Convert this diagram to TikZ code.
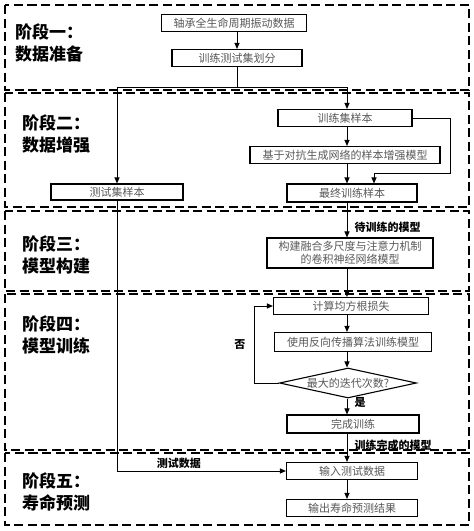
\documentclass[tikz,border=0pt]{standalone}
\usepackage{fontspec}
\setmainfont{Noto Sans CJK SC}
\usetikzlibrary{positioning,arrows.meta,calc,shapes.geometric}

\begin{document}
\begin{tikzpicture}[
  x=1pt, y=-1pt,
  font=\fontsize{11}{13}\selectfont,
  stage/.style={draw, line width=1.8pt, dash pattern=on 9pt off 4.5pt},
  title/.style={font=\fontsize{17}{22}\selectfont\bfseries, align=left, anchor=west, inner sep=0pt},
  box/.style={draw, line width=1.1pt, fill=white, text=black!65, minimum height=17pt, inner sep=1pt, align=center},
  check/.style={box, diamond, aspect=4.57, inner xsep=-15pt, inner ysep=0pt, minimum width=137pt, minimum height=30pt},
  arr/.style={-{Triangle[length=6pt, width=5pt]}, line width=1pt},
  link/.style={line width=1pt},
  lbl/.style={font=\fontsize{11}{13}\selectfont\bfseries, inner sep=1pt}
]
\useasboundingbox (0,0) rectangle (474,531);

% ---- stage frames ----
\draw[stage] (5,5) rectangle (469,90);
\draw[stage] (5,93) rectangle (469,207);
\draw[stage] (5,211) rectangle (469,291);
\draw[stage] (5,294) rectangle (469,450);
\draw[stage] (5,453) rectangle (469,525);

\node[title] (t1) at (15,43) {阶段一：\\数据准备};
\node[title] (t2) at (22,134) {阶段二：\\数据增强};
\node[title] (t3) at (22,255) {阶段三：\\模型构建};
\node[title] (t4) at (22,335) {阶段四：\\模型训练};
\node[title] (t5) at (22,492) {阶段五：\\寿命预测};

\coordinate (spine) at (347,0);

% ---- data preparation ----
\node[box, minimum width=145pt] (data) at (234,23) {轴承全生命周期振动数据};
\node[box, minimum width=130pt] (split) at (237,58) {训练测试集划分};

% ---- augmentation ----
\node[box, minimum width=134pt] (train) at (345,118) {训练集样本};
\node[box, minimum width=190pt] (gan) at (345,155) {基于对抗生成网络的样本增强模型};
\node[box, minimum width=130pt, minimum height=18pt] (final) at (352,193) {最终训练样本};
\node[box, minimum width=132pt, minimum height=16pt] (test) at (117,192) {测试集样本};

% ---- model ----
\node[box, minimum width=166pt, minimum height=30pt, inner sep=0pt, font=\fontsize{11}{12.5}\selectfont] (cnn) at (350,253)
  {构建融合多尺度与注意力机制\\的卷积神经网络模型};

% ---- training ----
\node[box, minimum width=155pt] (rmse) at (351,306) {计算均方根损失};
\node[box, minimum width=157pt, minimum height=19pt] (bp) at (353,342) {使用反向传播算法训练模型};
\node[check] (maxit) at (348,383) {最大的迭代次数?};
\node[box, minimum width=132pt, minimum height=18pt] (done) at (353,424) {完成训练};

% ---- prediction ----
\node[box, minimum width=131pt] (input) at (352,471) {输入测试数据};
\node[box, minimum width=131pt] (output) at (352,508) {输出寿命预测结果};

% ---- arrows ----
\draw[arr] (data.south -| split) -- (split.north);
\draw[link] (split.south) -- ++(0,20) coordinate (fork);
\draw[arr] (fork) -| (test.north);
\draw[arr] (fork) -| (train.north -| spine);
\draw[arr] (train.south -| spine) -- (gan.north -| spine);
\draw[arr] (gan.south -| spine) -- (final.north -| spine);
\draw[arr] (train.east) -- ++(38,0) -- ++(0,55) -| ([xshift=22pt]final.north);
\draw[arr] (final.south -| spine) -- node[lbl, right, pos=0.72, xshift=6pt] {待训练的模型} (cnn.north -| spine);
\draw[arr] (cnn.south -| spine) -- (rmse.north -| spine);
\draw[arr] (rmse.south -| spine) -- (bp.north -| spine);
\draw[arr] (bp.south -| spine) -- (maxit.north -| spine);
\draw[arr] (maxit.west) -- ++(-24,0) |- node[lbl, left, pos=0.25, xshift=-8pt] {否} (rmse.west);
\draw[arr] (maxit.south -| spine) -- node[lbl, right, pos=0.25, xshift=6pt] {是} (done.north -| spine);
\draw[arr] (done.south -| spine) -- node[lbl, right, pos=0.4, xshift=6pt] {训练完成的模型} (input.north -| spine);
\draw[arr] (test.south) |- node[lbl, above, pos=0.683, yshift=1pt] {测试数据} (input.west);
\draw[arr] (input.south -| spine) -- (output.north -| spine);
\end{tikzpicture}
\end{document}
